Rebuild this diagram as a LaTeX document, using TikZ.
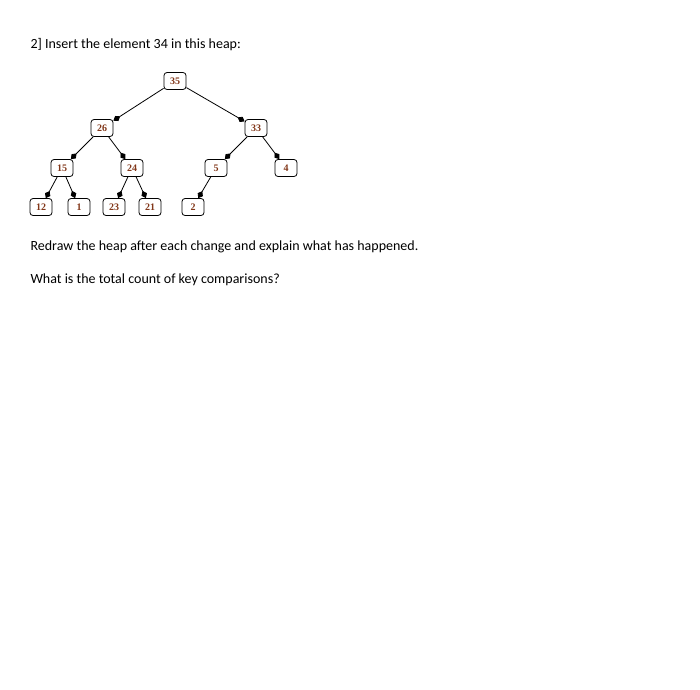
\documentclass[tikz,border=0pt]{standalone}
\usepackage{fontspec}
\setmainfont{Carlito}
\newfontfamily\nodefont{Liberation Serif}
\usetikzlibrary{arrows.meta}
\definecolor{numc}{RGB}{130,55,25}
\tikzset{
  hn/.style={draw,thick,rounded corners=3pt,minimum width=22pt,minimum height=17pt,inner sep=1pt,font=\nodefont\bfseries\fontsize{10}{10}\selectfont,text=numc,fill=white},
  ed/.style={thick,-{Diamond[length=8pt,width=6pt]}},
  txt/.style={anchor=base west,font=\fontsize{14}{16}\selectfont}
}
\begin{document}
\begin{tikzpicture}[x=1pt,y=-1pt]
\useasboundingbox[fill=white] (0,0) rectangle (700,689);
\node[txt] (t1) at (27,48) {2] Insert the element 34 in this heap:};
\node[hn] (n35) at (175,81) {35};
\node[hn] (n26) at (102,128) {26};
\node[hn] (n33) at (256,128) {33};
\node[hn] (n15) at (62,168) {15};
\node[hn] (n24) at (132,168) {24};
\node[hn] (n5) at (216,168) {5};
\node[hn] (n4) at (286,168) {4};
\node[hn] (n12) at (41,207) {12};
\node[hn] (n1) at (79,207) {1};
\node[hn] (n23) at (114,207) {23};
\node[hn] (n21) at (150,207) {21};
\node[hn] (n2) at (193,207) {2};
\draw[ed] (n35) -- (n26);
\draw[ed] (n35) -- (n33);
\draw[ed] (n26) -- (n15);
\draw[ed] (n26) -- (n24);
\draw[ed] (n33) -- (n5);
\draw[ed] (n33) -- (n4);
\draw[ed] (n15) -- (n12);
\draw[ed] (n15) -- (n1);
\draw[ed] (n24) -- (n23);
\draw[ed] (n24) -- (n21);
\draw[ed] (n5) -- (n2);
\node[txt] (t2) at (27,250) {Redraw the heap after each change and explain what has happened.};
\node[txt] (t3) at (27,283) {What is the total count of key comparisons?};
\end{tikzpicture}
\end{document}
